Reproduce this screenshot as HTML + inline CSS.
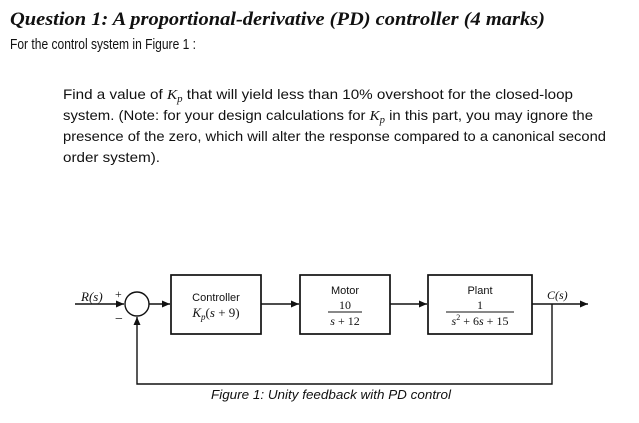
<!DOCTYPE html>
<html><head><style>
html,body{margin:0;padding:0;background:#fff;}
svg{display:block;}
.s{font-family:"Liberation Sans",sans-serif;fill:#111;}
.m{font-family:"Liberation Serif",serif;fill:#111;}
</style></head><body>
<svg width="639" height="423" viewBox="0 0 639 423" xmlns="http://www.w3.org/2000/svg">
<defs><marker id="a" markerWidth="9" markerHeight="9" refX="8" refY="4.5" orient="auto" markerUnits="userSpaceOnUse"><path d="M0,1 L8,4.5 L0,8 Z" fill="#111"/></marker></defs>
<text x="10" y="25" class="m" font-size="19" font-weight="bold" font-style="italic" textLength="535" lengthAdjust="spacingAndGlyphs">Question 1: A proportional-derivative (PD) controller (4 marks)</text>
<text x="10" y="49" class="s" font-size="15" textLength="186" lengthAdjust="spacingAndGlyphs">For the control system in Figure 1 :</text>
<text x="63" y="99" class="s" font-size="14" textLength="510" lengthAdjust="spacingAndGlyphs">Find a value of <tspan class="m" font-style="italic">K<tspan font-size="10" dy="3">p</tspan></tspan><tspan dy="-3"> that will yield less than 10% overshoot for the closed-loop</tspan></text>
<text x="63" y="120" class="s" font-size="14" textLength="530" lengthAdjust="spacingAndGlyphs">system. (Note: for your design calculations for <tspan class="m" font-style="italic">K<tspan font-size="10" dy="3">p</tspan></tspan><tspan dy="-3"> in this part, you may ignore the</tspan></text>
<text x="63" y="141" class="s" font-size="14" textLength="543" lengthAdjust="spacingAndGlyphs">presence of the zero, which will alter the response compared to a canonical second</text>
<text x="63" y="162" class="s" font-size="14" textLength="97" lengthAdjust="spacingAndGlyphs">order system).</text>

<g stroke="#111" stroke-width="1.4" fill="none">
<line x1="75" y1="304" x2="124" y2="304" marker-end="url(#a)"/>
<circle cx="137" cy="304" r="12"/>
<line x1="149" y1="304" x2="170" y2="304" marker-end="url(#a)"/>
<rect x="171" y="275" width="90" height="59" stroke-width="1.7"/>
<line x1="261" y1="304" x2="299" y2="304" marker-end="url(#a)"/>
<rect x="300" y="275" width="90" height="59" stroke-width="1.7"/>
<line x1="390" y1="304" x2="427" y2="304" marker-end="url(#a)"/>
<rect x="428" y="275" width="104" height="59" stroke-width="1.7"/>
<line x1="532" y1="304" x2="588" y2="304" marker-end="url(#a)"/>
<polyline points="552,304 552,384 137,384 137,317" marker-end="url(#a)"/>
<line x1="328" y1="312" x2="362" y2="312" stroke-width="1"/>
<line x1="446" y1="312" x2="514" y2="312" stroke-width="1"/>
</g>
<text x="81" y="301" class="m" font-size="13" font-style="italic">R(s)</text>
<text x="115" y="298" class="m" font-size="12">+</text>
<text x="115" y="323" class="m" font-size="14">−</text>
<text x="216" y="301" class="s" font-size="11" text-anchor="middle">Controller</text>
<text x="216" y="317" class="m" font-size="13" text-anchor="middle"><tspan font-style="italic">K<tspan font-size="9" dy="3">p</tspan></tspan><tspan dy="-3">(</tspan><tspan font-style="italic">s</tspan> + 9)</text>
<text x="345" y="294" class="s" font-size="11" text-anchor="middle">Motor</text>
<text x="345" y="309" class="m" font-size="12" text-anchor="middle">10</text>
<text x="345" y="325" class="m" font-size="12" text-anchor="middle"><tspan font-style="italic">s</tspan> + 12</text>
<text x="480" y="294" class="s" font-size="11" text-anchor="middle">Plant</text>
<text x="480" y="309" class="m" font-size="12" text-anchor="middle">1</text>
<text x="480" y="325" class="m" font-size="12" text-anchor="middle"><tspan font-style="italic">s</tspan><tspan font-size="8" dy="-5">2</tspan><tspan dy="5"> + 6</tspan><tspan font-style="italic">s</tspan> + 15</text>
<text x="547" y="299" class="m" font-size="12" font-style="italic">C(s)</text>
<text x="211" y="399" class="s" font-size="13" font-style="italic" textLength="240" lengthAdjust="spacingAndGlyphs">Figure 1: Unity feedback with PD control</text>
</svg>
</body></html>
